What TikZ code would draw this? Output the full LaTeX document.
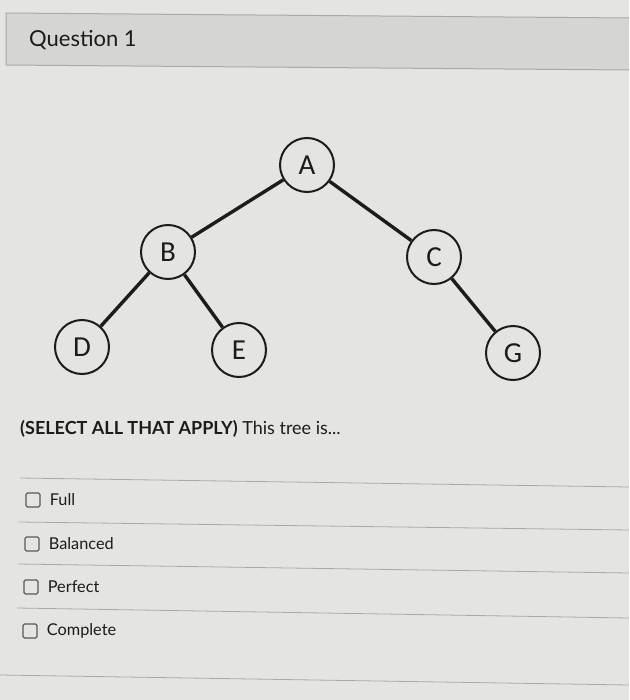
\documentclass[tikz,border=0pt]{standalone}
\usepackage{fontspec}
\setmainfont{Lato}
\newfontfamily\treefont{Carlito}
\usetikzlibrary{positioning}
\definecolor{screen}{HTML}{E4E4E1}
\definecolor{header}{HTML}{D5D5D2}
\definecolor{rule}{HTML}{A9A9A6}
\definecolor{ink}{HTML}{1C1C1C}

\begin{document}
\begin{tikzpicture}[
  x=1pt, y=-1pt,
  vertex/.style={draw=ink, circle, line width=2pt, minimum size=54pt, inner sep=0pt,
    font=\treefont\fontsize{29}{29}\selectfont, text=ink},
  branch/.style={draw=ink, line width=3.4pt},
  tickbox/.style={draw=black!65, rounded corners=1.5pt, line width=1.3pt,
    minimum size=14pt, inner sep=0pt},
  answer/.style={right=9pt of #1, inner sep=0pt, font=\fontsize{16.3}{16.3}\selectfont, text=ink},
]
  \useasboundingbox[fill=screen] (0,0) rectangle (629,700);

  % Header bar
  \fill[header] (6,13) -- (629,18) -- (629,70) -- (6,65) -- cycle;
  \draw[rule, line width=1pt] (629,18) -- (6,13) -- (6,65) -- (629,70);
  \node[anchor=base west, inner sep=0pt, font=\fontsize{22}{22}\selectfont, text=ink]
    (title) at (29,47) {Question 1};

  % Tree
  \node[vertex] (A) at (307,165) {A};
  \node[vertex] (B) at (168,252) {B};
  \node[vertex] (C) at (434,257) {C};
  \node[vertex] (D) at (82,347) {D};
  \node[vertex] (E) at (239,350) {E};
  \node[vertex] (G) at (513,353) {G};
  \draw[branch] (A) -- (B);
  \draw[branch] (A) -- (C);
  \draw[branch] (B) -- (D);
  \draw[branch] (B) -- (E);
  \draw[branch] (C) -- (G);

  % Question text
  \node[anchor=base west, inner sep=0pt, font=\fontsize{18}{18}\selectfont, text=ink]
    (prompt) at (20,434) {\textbf{(SELECT ALL THAT APPLY)} This tree is...};

  % Options
  \draw[rule, line width=0.8pt] (20,478) -- (629,487);
  \node[tickbox] (box1) at (33,500) {};
  \node[answer=box1] (full) {Full};
  \draw[rule, line width=0.8pt] (19,522) -- (629,530);
  \node[tickbox] (box2) at (32,544) {};
  \node[answer=box2] (balanced) {Balanced};
  \draw[rule, line width=0.8pt] (18,564) -- (629,573);
  \node[tickbox] (box3) at (31,587) {};
  \node[answer=box3] (perfect) {Perfect};
  \draw[rule, line width=0.8pt] (17,608) -- (629,618);
  \node[tickbox] (box4) at (30,631) {};
  \node[answer=box4] (complete) {Complete};
  \draw[rule, line width=0.8pt] (0,675) -- (629,685);
\end{tikzpicture}
\end{document}
